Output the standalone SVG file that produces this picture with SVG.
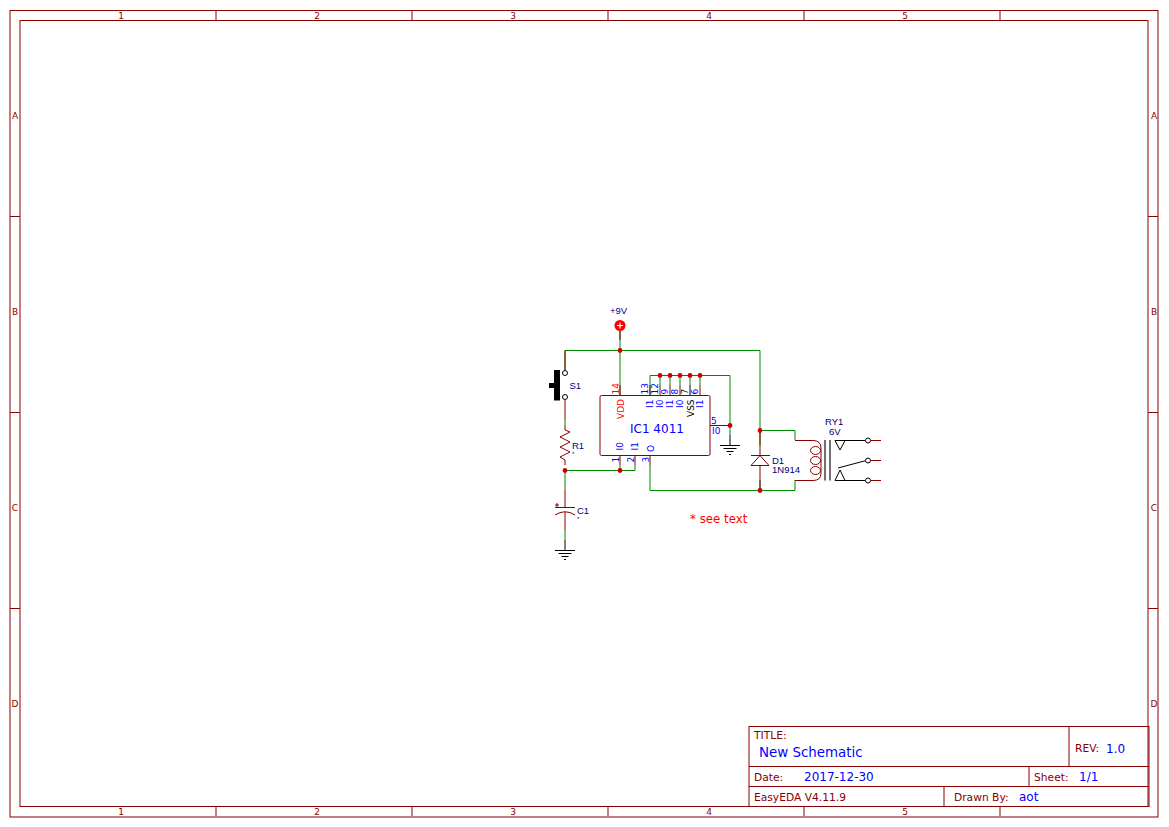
<svg xmlns="http://www.w3.org/2000/svg" width="1169" height="827" viewBox="0 0 1169 827">
<style>
text{font-family:"DejaVu Sans",sans-serif;white-space:pre}
.f{fill:none;stroke:#880000;stroke-width:1}
.fr{font-size:9px;fill:#880000;text-anchor:middle}
.tb{font-size:10.700px;fill:#880000}
.tv{font-size:12px;fill:#0000FF}
.w{fill:none;stroke:#008800;stroke-width:1}
.p{fill:none;stroke:#880000;stroke-width:1}
.s{fill:none;stroke:#880000;stroke-width:1}
.k{fill:none;stroke:#000;stroke-width:1}
.j{fill:#CC0000;stroke:none}
.pn{font-size:9px;fill:#0000FF}
.pr{font-size:9px;fill:#FF0000}
.n{font-size:9.500px;fill:#000080;font-family:"Liberation Sans",sans-serif}
.st{font-size:6px;fill:#000080;font-family:"Liberation Sans",sans-serif}
</style>
<defs>
<g id="gnd"><path d="M-10 0H10M-6.500 3H6.500M-3.500 6H3.500M-1 9H1" class="k"/></g>
<circle id="jn" r="2.400" class="j"/>
</defs>
<rect width="1169" height="827" fill="#fff"/>
<g id="frame">
<rect x="10" y="10.500" width="1148" height="806.500" class="f"/>
<rect x="20" y="20.500" width="1128" height="786" class="f"/>
<path class="f" d="M216 11V20M412 11V20M608 11V20M804 11V20M1000 11V20M216 807V816M412 807V816M608 807V816M804 807V816M1000 807V816M10 216.500H20M10 412.500H20M10 608.500H20M1148 216.500H1158M1148 412.500H1158M1148 608.500H1158"/>
<g class="fr">
<text x="121" y="19">1</text><text x="317" y="19">2</text><text x="513" y="19">3</text><text x="709" y="19">4</text><text x="905" y="19">5</text>
<text x="121" y="815">1</text><text x="317" y="815">2</text><text x="513" y="815">3</text><text x="709" y="815">4</text><text x="905" y="815">5</text>
<text x="15" y="119">A</text><text x="15" y="315">B</text><text x="15" y="511">C</text><text x="15" y="707">D</text>
<text x="1154" y="119">A</text><text x="1154" y="315">B</text><text x="1154" y="511">C</text><text x="1154" y="707">D</text>
</g>
</g>
<g id="title-block">
<rect x="749" y="726.500" width="400" height="80" class="f"/>
<path class="f" d="M749 766.500H1149M749 786.500H1149M1069 727V766M1029 767V786M944 787V806"/>
<text class="tb" x="754" y="738.500">TITLE:</text>
<text x="759" y="756.500" font-size="13.400" fill="#0000FF">New Schematic</text>
<text class="tb" x="1075" y="752">REV:</text>
<text class="tv" x="1106" y="753">1.0</text>
<text class="tb" x="754" y="781">Date:</text>
<text class="tv" x="804" y="781">2017-12-30</text>
<text class="tb" x="1034" y="781">Sheet:</text>
<text class="tv" x="1079" y="781">1/1</text>
<text class="tb" x="754" y="801">EasyEDA V4.11.9</text>
<text class="tb" x="954" y="801">Drawn By:</text>
<text class="tv" x="1019" y="801">aot</text>
</g>
<g id="wires">
<path class="w" d="M565 370V350.500H760V430M620 331V395"/>
<path class="w" d="M650 375.500H730V435M650 375.500V395M660 375.500V385M670 375.500V385M680 375.500V385M690 375.500V385M700 375.500V385"/>
<path class="w" d="M565 425V420M565 470.500H635V465M620 470.500V465M565 470.500V490M565 530V540"/>
<path class="w" d="M760 430.500H795V440M650 465V490.500H795V480M760 430V445M760 480V490"/>
</g>
<g id="plus9v">
<path class="p" d="M620 331V340"/>
<circle cx="620" cy="325.500" r="5.500" fill="#FF0000"/>
<path d="M617 325.500H623M620 322.500V328.500" stroke="#fff" stroke-width="1.200" fill="none"/>
<text class="n" x="610" y="314">+9V</text>
</g>
<g id="S1">
<path class="p" d="M565 350.500V370M565 400V420"/>
<circle cx="565" cy="373" r="2.500" fill="#fff" stroke="#000"/>
<circle cx="565" cy="397" r="2.500" fill="#fff" stroke="#000"/>
<rect x="554" y="370" width="6" height="30.500" fill="#000"/>
<rect x="549" y="383" width="6" height="5" fill="#000"/>
<text class="n" x="569.500" y="389">S1</text>
</g>
<g id="R1">
<path class="s" d="M565 425V430L570 432 560 437 570 442 560 447 570 452 560 457 565 460V465"/>
<text class="n" x="572" y="449">R1</text>
<text class="st" x="572" y="456">*</text>
</g>
<g id="C1">
<path class="p" d="M565 490V507M565 512V530"/>
<path class="s" d="M555 507.500H575M555 515Q565 508.500 575 515M555 505H559M557 503V507"/>
<text class="n" x="577" y="514">C1</text>
<text class="st" x="577" y="521">*</text>
<path class="k" d="M565 540V550"/>
<use href="#gnd" x="565" y="550.500"/>
</g>
<g id="IC1">
<rect x="600" y="395.500" width="110" height="60" rx="1.500" class="s"/>
<path class="p" d="M620 395V385M650 395V385M660 395V385M670 395V385M680 395V385M700 395V385M710 425.500H730M620 455V465M635 455V465M650 455V465"/>
<path class="k" d="M690 395V385"/>
<text x="630" y="433" font-size="12" fill="#0000FF">IC1 4011</text>
<text class="pr" transform="rotate(-90 618.500 394.500)" x="618.500" y="394.500">14</text>
<text class="pr" transform="rotate(-90 624 419)" x="624" y="419">VDD</text>
<g class="pn">
<text transform="rotate(-90 648 394.500)" x="648" y="394.500">13</text>
<text transform="rotate(-90 658 394.500)" x="658" y="394.500">12</text>
<text transform="rotate(-90 668 394.500)" x="668" y="394.500">9</text>
<text transform="rotate(-90 678 394.500)" x="678" y="394.500">8</text>
<text transform="rotate(-90 698 394.500)" x="698" y="394.500">6</text>
<text transform="rotate(-90 652.500 408)" x="652.500" y="408">I1</text>
<text transform="rotate(-90 662.500 408)" x="662.500" y="408">I0</text>
<text transform="rotate(-90 672.500 408)" x="672.500" y="408">I1</text>
<text transform="rotate(-90 682.500 408)" x="682.500" y="408">I0</text>
<text transform="rotate(-90 702.500 408)" x="702.500" y="408">I1</text>
<text x="711" y="424">5</text>
<text x="712" y="434">I0</text>
<text transform="rotate(-90 618.500 462.500)" x="618.500" y="462.500">1</text>
<text transform="rotate(-90 633.500 462.500)" x="633.500" y="462.500">2</text>
<text transform="rotate(-90 648.500 462.500)" x="648.500" y="462.500">3</text>
<text transform="rotate(-90 623 450.500)" x="623" y="450.500">I0</text>
<text transform="rotate(-90 638 450.500)" x="638" y="450.500">I1</text>
<text transform="rotate(-90 653.500 452)" x="653.500" y="452">O</text>
</g>
<text transform="rotate(-90 688 394.500)" x="688" y="394.500" font-size="9" fill="#000">7</text>
<text transform="rotate(-90 694 417)" x="694" y="417" font-size="9" fill="#000">VSS</text>
</g>
<g id="GND-IC">
<path class="k" d="M730 435V445"/>
<use href="#gnd" x="730" y="445.500"/>
</g>
<g id="D1">
<path class="p" d="M760 430V490"/>
<path class="s" style="fill:#fff" d="M760 455.500L751 465.500H769Z"/>
<path class="s" d="M751 455.500H770"/>
<text class="n" x="772" y="464">D1</text>
<text class="n" x="772" y="473">1N914</text>
</g>
<g id="RY1">
<path class="s" d="M795 440.500H813Q821 440.500 821 448V473Q821 480.500 813 480.500H795"/>
<ellipse class="s" cx="815.500" cy="450.500" rx="5" ry="4"/>
<ellipse class="s" cx="815.500" cy="460.500" rx="5" ry="4"/>
<ellipse class="s" cx="815.500" cy="470.500" rx="5" ry="4"/>
<path d="M825 440V480.500M830 440V480.500" stroke="#707070" stroke-width="2" fill="none"/>
<path class="k" d="M835 440.500H865.500M865.500 480.500H835M838 468L865.500 460.700M835 440.500L840 450 845 440.500M835 480.500L840 470 845 480.500Z"/>
<circle cx="868" cy="440.500" r="2.500" fill="#fff" stroke="#000"/>
<circle cx="868" cy="460.500" r="2.500" fill="#fff" stroke="#000"/>
<circle cx="868" cy="480.500" r="2.500" fill="#fff" stroke="#000"/>
<path class="p" d="M870.500 440.500H881M870.500 460.500H881M870.500 480.500H881"/>
<text class="n" x="825" y="425">RY1</text>
<text class="n" x="829" y="435">6V</text>
</g>
<g id="junctions">
<use href="#jn" x="620" y="350.500"/>
<use href="#jn" x="660" y="375.500"/><use href="#jn" x="670" y="375.500"/><use href="#jn" x="680" y="375.500"/><use href="#jn" x="690" y="375.500"/><use href="#jn" x="700" y="375.500"/>
<use href="#jn" x="730" y="425.500"/><use href="#jn" x="760" y="430.500"/><use href="#jn" x="760" y="490.500"/>
<use href="#jn" x="565" y="470.500"/><use href="#jn" x="620" y="470.500"/>
</g>
<text x="690" y="522.500" font-size="11.800" fill="#FF0000">* see text</text>
</svg>
